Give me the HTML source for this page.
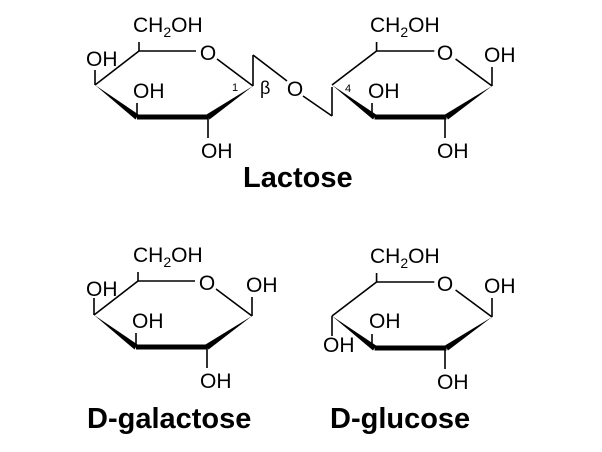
<!DOCTYPE html>
<html><head><meta charset="utf-8"><style>
html,body{margin:0;padding:0;background:#fff;}
svg{display:block;}
text{font-family:"Liberation Sans",Arial,sans-serif;fill:#000;}
</style></head><body>
<svg width="602" height="452" viewBox="0 0 602 452" xmlns="http://www.w3.org/2000/svg">
<defs>
<g id="ring" stroke="#000" stroke-width="1.6" fill="none">
  <line x1="0" y1="34" x2="44" y2="0"/>
  <line x1="44" y1="0" x2="101" y2="0"/>
  <line x1="122" y1="8" x2="158" y2="35"/>
  <line x1="44" y1="0" x2="44" y2="-9"/>
  <polygon points="0,34 43.5,63.5 40.5,68.5" fill="#000" stroke="none"/>
  <line x1="42" y1="66" x2="113" y2="66" stroke-width="5"/>
  <polygon points="111.5,63.5 114.5,68.5 158,35" fill="#000" stroke="none"/>
</g>
</defs>

<g transform="translate(95,51)"><use href="#ring"/></g>
<g stroke="#000" stroke-width="1.6" fill="none">
  <line x1="95" y1="85" x2="95" y2="70"/>
  <line x1="137" y1="117" x2="137" y2="103"/>
  <line x1="208" y1="117" x2="208" y2="138"/>
  <line x1="253" y1="86" x2="253" y2="55"/>
  <line x1="253" y1="55" x2="287" y2="81"/>
  <line x1="303" y1="96" x2="332" y2="116"/>
  <line x1="332" y1="116" x2="332" y2="87"/>
</g>
<text x="133" y="32" font-size="21">CH<tspan font-size="14" dy="5">2</tspan><tspan dy="-5">OH</tspan></text>
<text x="86" y="66" font-size="21">OH</text>
<text x="133" y="98" font-size="21">OH</text>
<text x="201" y="158" font-size="21">OH</text>
<text x="208" y="60" font-size="21" text-anchor="middle">O</text>
<text x="232" y="91" font-size="11">1</text>
<text x="260" y="94" font-size="18">β</text>
<text x="295" y="96" font-size="21" text-anchor="middle">O</text>

<g transform="translate(332,51)"><use href="#ring" transform="scale(1.013,1)"/></g>
<g stroke="#000" stroke-width="1.6" fill="none">
  <line x1="372" y1="117" x2="372" y2="103"/>
  <line x1="445" y1="117" x2="445" y2="138"/>
  <line x1="492" y1="86" x2="492" y2="67"/>
</g>
<text x="370" y="32" font-size="21">CH<tspan font-size="14" dy="5">2</tspan><tspan dy="-5">OH</tspan></text>
<text x="445" y="60" font-size="21" text-anchor="middle">O</text>
<text x="484" y="62" font-size="21">OH</text>
<text x="368" y="98" font-size="21">OH</text>
<text x="437" y="158" font-size="21">OH</text>
<text x="345" y="92" font-size="11">4</text>

<text x="243" y="187" font-size="29" font-weight="bold">Lactose</text>

<g transform="translate(94,281)"><use href="#ring"/></g>
<g stroke="#000" stroke-width="1.6" fill="none">
  <line x1="94" y1="315" x2="94" y2="298"/>
  <line x1="136" y1="347" x2="136" y2="333"/>
  <line x1="207" y1="347" x2="207" y2="368"/>
  <line x1="252" y1="316" x2="252" y2="297"/>
</g>
<text x="133" y="262" font-size="21">CH<tspan font-size="14" dy="5">2</tspan><tspan dy="-5">OH</tspan></text>
<text x="86" y="296" font-size="21">OH</text>
<text x="207" y="290" font-size="21" text-anchor="middle">O</text>
<text x="246" y="292" font-size="21">OH</text>
<text x="132" y="328" font-size="21">OH</text>
<text x="200" y="388" font-size="21">OH</text>
<text x="87" y="428" font-size="29" font-weight="bold">D-galactose</text>

<g transform="translate(332,282)"><use href="#ring" transform="scale(1.013,1)"/></g>
<g stroke="#000" stroke-width="1.6" fill="none">
  <line x1="332" y1="316" x2="332" y2="336"/>
  <line x1="372" y1="348" x2="372" y2="334"/>
  <line x1="445" y1="348" x2="445" y2="369"/>
  <line x1="492" y1="317" x2="492" y2="298"/>
</g>
<text x="370" y="263" font-size="21">CH<tspan font-size="14" dy="5">2</tspan><tspan dy="-5">OH</tspan></text>
<text x="445" y="291" font-size="21" text-anchor="middle">O</text>
<text x="484" y="293" font-size="21">OH</text>
<text x="369" y="328" font-size="21">OH</text>
<text x="323" y="352" font-size="21">OH</text>
<text x="437" y="389" font-size="21">OH</text>
<text x="330" y="428" font-size="29" font-weight="bold">D-glucose</text>
</svg>
</body></html>
